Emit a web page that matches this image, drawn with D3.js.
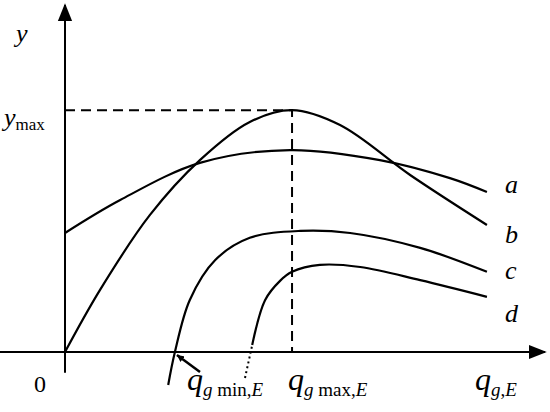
<!DOCTYPE html>
<html><head><meta charset="UTF-8">
<script src="https://d3js.org/d3.v7.min.js"></script>
<style>body{margin:0;background:#fff}text{font-family:"Liberation Serif",serif;fill:#000}</style>
</head><body>
<svg width="550" height="412"></svg>
<script>
var curveA = [[0,34.3],[11.5,43.8],[28.1,54.5],[46.9,58.2],[65.6,55.3],[80.2,50.1],[87.9,46.1]];
var curveB = [[0,0],[7.3,17.9],[17.7,39.5],[28.1,55.3],[38.5,66.3],[47.3,69.7],[57.3,65.4],[71.9,51],[87.9,36.6]];
var curveC = [[21.5,-9.5],[22.9,0],[26,15],[31.3,26.5],[38.5,32.9],[49,34.9],[59.4,34.3],[74,30],[87.9,23.1]];
var curveDdot = [[37.5,-7.5],[39,2]];
var curveD = [[39,2],[41.7,15],[44.8,20.5],[47.3,23.1],[53.1,25.1],[61.5,24.5],[74,20.7],[87.9,15.9]];
var yMax = 69.7, xPeak = 47.3;

var svg = d3.select("svg");
var x = d3.scaleLinear().domain([0,100]).range([65,545]);
var y = d3.scaleLinear().domain([0,100]).range([352,5]);
var line = d3.line().x(function(d){return x(d[0]);}).y(function(d){return y(d[1]);}).curve(d3.curveCatmullRom);

var defs = svg.append("defs");
defs.append("marker").attr("id","ah").attr("viewBox","0 0 10 10").attr("refX",10).attr("refY",5)
  .attr("markerWidth",7).attr("markerHeight",7).attr("orient","auto").attr("markerUnits","userSpaceOnUse")
  .append("path").attr("d","M0,0L10,5L0,10z");
defs.append("marker").attr("id","ah2").attr("viewBox","0 0 10 10").attr("refX",9).attr("refY",5)
  .attr("markerWidth",18).attr("markerHeight",18).attr("orient","auto").attr("markerUnits","userSpaceOnUse")
  .append("path").attr("d","M0,1L10,5L0,9z");

// axes
svg.append("line").attr("x1",0).attr("x2",x(100)).attr("y1",y(0)).attr("y2",y(0)).attr("stroke","#000").attr("stroke-width",2).attr("marker-end","url(#ah2)");
svg.append("line").attr("x1",x(0)).attr("x2",x(0)).attr("y1",y(-6)).attr("y2",y(100)).attr("stroke","#000").attr("stroke-width",2).attr("marker-end","url(#ah2)");

// dashed guides
svg.append("path").attr("d","M"+x(0)+","+y(yMax)+"H"+x(xPeak)+"V"+y(0))
  .attr("fill","none").attr("stroke","#000").attr("stroke-width",2).attr("stroke-dasharray","10,6");

[curveA,curveB,curveC,curveD].forEach(function(c){
  svg.append("path").attr("d",line(c)).attr("fill","none").attr("stroke","#000").attr("stroke-width",2.2);
});
svg.append("path").attr("d",line(curveDdot)).attr("fill","none").attr("stroke","#000").attr("stroke-width",2).attr("stroke-dasharray","2,3");

// arrow to q_gmin
svg.append("line").attr("x1",200).attr("y1",372).attr("x2",x(22.9)+2).attr("y2",y(0)+3)
  .attr("stroke","#000").attr("stroke-width",2.5).attr("marker-end","url(#ah)");

var lbl = [["a",505,193],["b",505,243],["c",505,279],["d",505,322]];
lbl.forEach(function(l){svg.append("text").attr("x",l[1]).attr("y",l[2]).attr("font-size",26).attr("font-style","italic").text(l[0]);});

svg.append("text").attr("x",16).attr("y",42).attr("font-size",26).attr("font-style","italic").text("y");
var ym = svg.append("text").attr("x",4).attr("y",126).attr("font-size",26);
ym.append("tspan").attr("font-style","italic").text("y");
ym.append("tspan").attr("font-size",17).attr("dy",4).text("max");
svg.append("text").attr("x",34).attr("y",392).attr("font-size",24).text("0");

function qlab(xx, sub1, sub2){
  var t = svg.append("text").attr("x",xx).attr("y",390).attr("font-size",32);
  t.append("tspan").attr("font-style","italic").text("q");
  var s = t.append("tspan").attr("font-size",19).attr("dy",6);
  s.append("tspan").attr("font-style","italic").text("g");
  if (sub1) s.append("tspan").text(" " + sub1);
  s.append("tspan").text(sub1 ? "," : ",");
  s.append("tspan").attr("font-style","italic").text(sub2);
}
qlab(187,"min","E");
qlab(288,"max","E");
qlab(475,null,"E");
</script>
</body></html>
